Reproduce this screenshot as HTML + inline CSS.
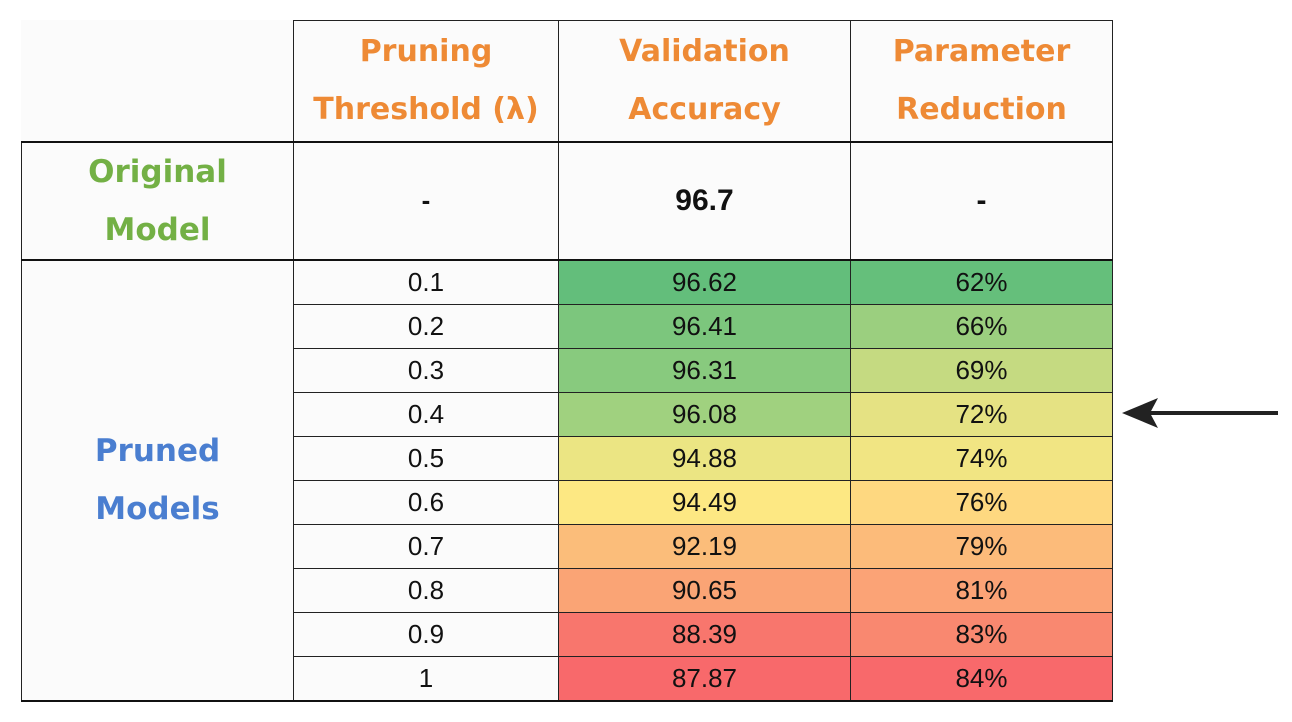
<!DOCTYPE html>
<html><head><style>
body{margin:0;width:1292px;height:722px;background:#fff;position:relative;overflow:hidden;font-family:"Liberation Sans",sans-serif;}
.bg{position:absolute;left:21px;top:20px;width:1091px;height:680px;background:#fbfbfb;}
table{position:absolute;left:21px;top:20px;border-collapse:collapse;table-layout:fixed;}
td{border:1.5px solid #222;text-align:center;padding:0;font-size:26px;color:#111;}
.h{color:#ee8a35;font-family:"DejaVu Sans",sans-serif;font-weight:bold;font-size:30px;line-height:58px;}
.r td{height:43px;}
.g{color:#73b045;font-family:"DejaVu Sans",sans-serif;font-weight:bold;font-size:31px;line-height:58px;}
.b{color:#4a7ed0;font-family:"DejaVu Sans",sans-serif;font-weight:bold;font-size:31px;line-height:58px;}
</style></head><body>
<div class="bg"></div>
<table>
<colgroup><col style="width:272px"><col style="width:265px"><col style="width:292px"><col style="width:262px"></colgroup>
<tr style="height:121px"><td style="border-top:none;border-left:none"></td><td class="h">Pruning<br>Threshold (λ)</td><td class="h">Validation<br>Accuracy</td><td class="h">Parameter<br>Reduction</td></tr>
<tr style="height:115px"><td class="g" style="border-top:2.5px solid #111;border-bottom:2.5px solid #111">Original<br>Model</td><td style="font-weight:bold;border-top:2.5px solid #111;border-bottom:2.5px solid #111">-</td><td style="font-weight:bold;font-size:30px;border-top:2.5px solid #111;border-bottom:2.5px solid #111">96.7</td><td style="font-weight:bold;font-size:30px;border-top:2.5px solid #111;border-bottom:2.5px solid #111">-</td></tr>
<tr class="r"><td rowspan="10" class="b" style="border-bottom:2px solid #111">Pruned<br>Models</td><td>0.1</td><td style="background:#63be7b">96.62</td><td style="background:#65bf7b">62%</td></tr>
<tr class="r"><td>0.2</td><td style="background:#7cc67d">96.41</td><td style="background:#9bcf7f">66%</td></tr>
<tr class="r"><td>0.3</td><td style="background:#88ca7e">96.31</td><td style="background:#c5da81">69%</td></tr>
<tr class="r"><td>0.4</td><td style="background:#a0d17f">96.08</td><td style="background:#e5e283">72%</td></tr>
<tr class="r"><td>0.5</td><td style="background:#ebe583">94.88</td><td style="background:#f1e583">74%</td></tr>
<tr class="r"><td>0.6</td><td style="background:#fde883">94.49</td><td style="background:#fed880">76%</td></tr>
<tr class="r"><td>0.7</td><td style="background:#fbbd7a">92.19</td><td style="background:#fcbb7a">79%</td></tr>
<tr class="r"><td>0.8</td><td style="background:#faa475">90.65</td><td style="background:#fba376">81%</td></tr>
<tr class="r"><td>0.9</td><td style="background:#f8766d">88.39</td><td style="background:#f98870">83%</td></tr>
<tr class="r"><td style="border-bottom:2px solid #111">1</td><td style="background:#f8696b;border-bottom:2px solid #111">87.87</td><td style="background:#f8696b;border-bottom:2px solid #111">84%</td></tr>
</table>
<svg style="position:absolute;left:0;top:0" width="1292" height="722">
<line x1="1145" y1="413" x2="1278" y2="413" stroke="#222" stroke-width="4"/>
<polygon points="1122,413 1158,398 1150,413 1158,428" fill="#222"/>
</svg>
</body></html>
